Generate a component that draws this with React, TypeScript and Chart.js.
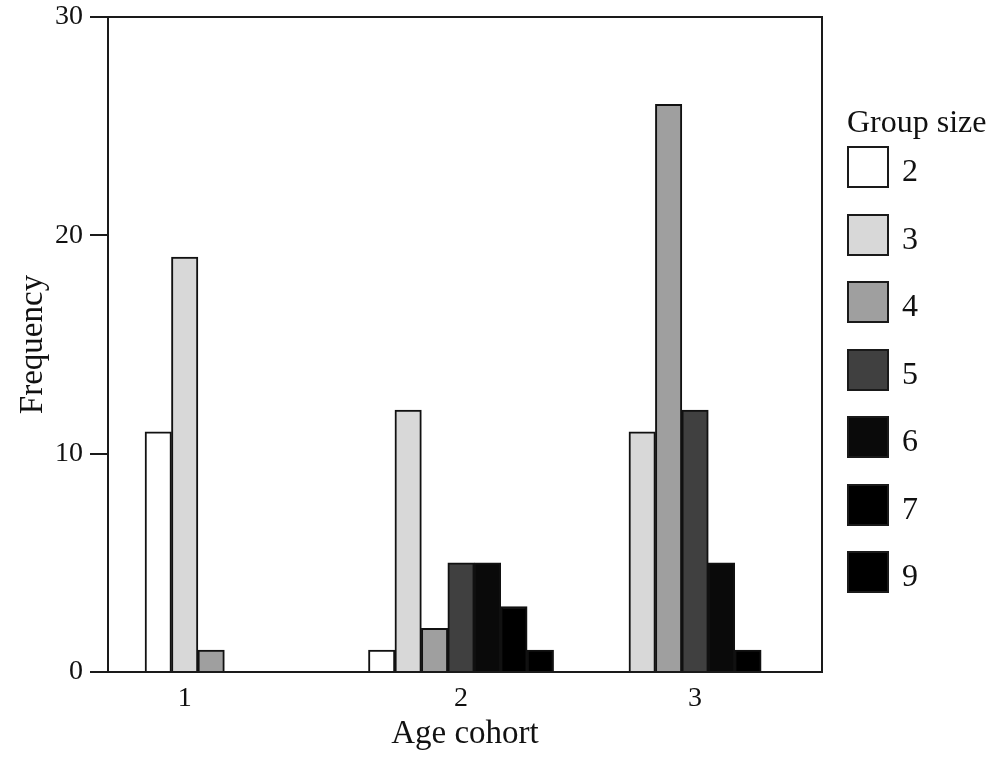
import React, { useEffect, useRef } from 'react';
import Chart from 'chart.js/auto';

const cohorts = ['1', '2', '3'];
const groupSizes = ['2', '3', '4', '5', '6', '7', '9'];

// frequency of each group size in each age cohort (null = no bar)
const size2 = [11, 1, null];
const size3 = [19, 12, 11];
const size4 = [1, 2, 26];
const size5 = [null, 5, 12];
const size6 = [null, 5, 5];
const size7 = [null, 3, 1];
const size9 = [null, 1, null];

const yTicks = [0, 10, 20, 30];

const frequencies = [size2, size3, size4, size5, size6, size7, size9];
const fills = ['#ffffff', '#d8d8d8', '#9f9f9f', '#404040', '#0a0a0a', '#000000', '#000000'];

// x axis is measured in bar widths; each cohort's cluster starts here
const X_SPAN = 27;
const clusterStart = [1.4, 9.85, 19.7];

const INK = '#111';
const FONT = "'Liberation Serif', 'Times New Roman', serif";

Chart.defaults.font.family = FONT;
Chart.defaults.color = INK;

// bars of a cohort sit next to each other, skipping empty group sizes
const barX = (c: number, g: number) => {
  const rank = frequencies.slice(0, g).filter(f => f[c] != null).length;
  return clusterStart[c] + rank + 0.5;
};

const clusterCenter = (c: number) => {
  const n = frequencies.filter(f => f[c] != null).length;
  return clusterStart[c] + n / 2;
};

const framePlugin = {
  id: 'frame',
  afterDatasetsDraw(chart: Chart) {
    const { ctx, chartArea } = chart;
    ctx.save();
    ctx.strokeStyle = '#1a1a1a';
    ctx.lineWidth = 2;
    ctx.strokeRect(chartArea.left, chartArea.top, chartArea.right - chartArea.left, chartArea.bottom - chartArea.top);
    ctx.restore();
  },
};

const GroupSizeChart: React.FC = () => {
  const canvasRef = useRef<HTMLCanvasElement | null>(null);

  useEffect(() => {
    if (!canvasRef.current) return;

    const chart = new Chart(canvasRef.current, {
      type: 'bar',
      data: {
        datasets: groupSizes.map((size, g) => ({
          label: size,
          data: frequencies[g].flatMap((v, c) => (v == null ? [] : [{ x: barX(c, g), y: v }])),
          backgroundColor: fills[g],
          borderColor: '#111',
          borderWidth: 2,
          grouped: false,
          barPercentage: 1,
          categoryPercentage: 1,
        })),
      },
      options: {
        responsive: true,
        maintainAspectRatio: false,
        animation: false,
        layout: { padding: { top: 17, right: 172, bottom: 0, left: 0 } },
        plugins: {
          legend: { display: false },
          tooltip: { enabled: false },
        },
        scales: {
          x: {
            type: 'linear',
            min: 0,
            max: X_SPAN,
            offset: false,
            grid: { display: false },
            border: { display: false },
            afterBuildTicks: axis => {
              axis.ticks = cohorts.map((_, c) => ({ value: clusterCenter(c) }));
            },
            afterFit: axis => {
              axis.height = 92;
            },
            ticks: {
              autoSkip: false,
              maxRotation: 0,
              padding: 2,
              color: INK,
              font: { size: 28 },
              callback: (_value, index) => cohorts[index],
            },
            title: {
              display: true,
              text: 'Age cohort',
              color: INK,
              font: { size: 33 },
              padding: { top: 0, bottom: 10 },
            },
          },
          y: {
            min: yTicks[0],
            max: yTicks[yTicks.length - 1],
            afterBuildTicks: axis => {
              axis.ticks = yTicks.map(value => ({ value }));
            },
            afterFit: axis => {
              axis.width = 108;
              axis.paddingTop = 0;
            },
            grid: {
              drawOnChartArea: false,
              drawTicks: true,
              tickLength: 18,
              color: '#1a1a1a',
              lineWidth: 2,
            },
            border: { display: false },
            ticks: {
              padding: 7,
              color: INK,
              font: { size: 28 },
            },
            title: {
              display: true,
              text: 'Frequency',
              color: INK,
              font: { size: 33 },
              padding: { top: 14, bottom: 0 },
            },
          },
        },
      },
      plugins: [framePlugin],
    });

    return () => {
      chart.destroy();
    };
  }, []);

  return (
    <div style={{ position: 'absolute', left: 0, top: 0, width: 994, height: 764 }}>
      <canvas ref={canvasRef} />
    </div>
  );
};

const GroupSizeLegend: React.FC = () => (
  <div style={{ position: 'absolute', left: 847, top: 105, fontFamily: FONT, color: INK }}>
    <div style={{ fontSize: 32, lineHeight: '32px', whiteSpace: 'nowrap' }}>Group size</div>
    {groupSizes.map((size, g) => (
      <div
        key={size}
        style={{ display: 'flex', alignItems: 'center', height: 42, marginTop: g === 0 ? 9 : 25.5 }}
      >
        <span
          style={{
            width: 42,
            height: 42,
            boxSizing: 'border-box',
            border: '2px solid #1a1a1a',
            background: fills[g],
          }}
        />
        <span style={{ marginLeft: 13, fontSize: 32, lineHeight: '42px', position: 'relative', top: 3 }}>
          {size}
        </span>
      </div>
    ))}
  </div>
);

export default function App() {
  return (
    <div style={{ position: 'fixed', left: 0, top: 0, width: 994, height: 764, background: '#fff' }}>
      <GroupSizeChart />
      <GroupSizeLegend />
    </div>
  );
}
